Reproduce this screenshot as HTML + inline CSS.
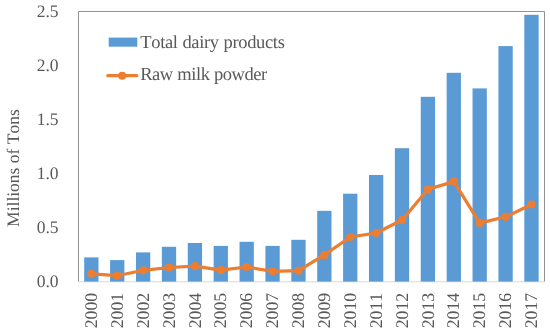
<!DOCTYPE html>
<html><head><meta charset="utf-8"><title>Chart</title>
<style>
html,body{margin:0;padding:0;background:#fff;}
svg{display:block;filter:blur(0.3px)}
text{text-rendering:geometricPrecision;font-kerning:none;font-family:"Liberation Serif","Times New Roman",serif;fill:#595959;}
</style></head><body>
<svg width="550" height="334" viewBox="0 0 550 334">
<rect x="0" y="0" width="550" height="334" fill="#ffffff"/>

<line x1="78.5" y1="281.8" x2="544.5" y2="281.8" stroke="#d9d9d9" stroke-width="1"/>
<g fill="#5b9bd5">
<rect x="84.19" y="257.40" width="14.30" height="24.20"/>
<rect x="110.08" y="260.10" width="14.30" height="21.50"/>
<rect x="135.97" y="252.40" width="14.30" height="29.20"/>
<rect x="161.86" y="246.80" width="14.30" height="34.80"/>
<rect x="187.75" y="243.00" width="14.30" height="38.60"/>
<rect x="213.64" y="245.90" width="14.30" height="35.70"/>
<rect x="239.53" y="241.80" width="14.30" height="39.80"/>
<rect x="265.42" y="245.90" width="14.30" height="35.70"/>
<rect x="291.31" y="239.80" width="14.30" height="41.80"/>
<rect x="317.19" y="210.80" width="14.30" height="70.80"/>
<rect x="343.08" y="193.70" width="14.30" height="87.90"/>
<rect x="368.97" y="175.00" width="14.30" height="106.60"/>
<rect x="394.86" y="148.20" width="14.30" height="133.40"/>
<rect x="420.75" y="96.80" width="14.30" height="184.80"/>
<rect x="446.64" y="72.80" width="14.30" height="208.80"/>
<rect x="472.53" y="88.40" width="14.30" height="193.20"/>
<rect x="498.42" y="46.10" width="14.30" height="235.50"/>
<rect x="524.31" y="14.80" width="14.30" height="266.80"/>
</g>
<path d="M78.5 281.5 V11.5 H544.5 V281.5" fill="none" stroke="#929292" stroke-width="1"/>
<polyline points="91.44,273.80 117.33,275.70 143.22,270.30 169.11,267.50 195.00,266.20 220.89,270.20 246.78,267.00 272.67,271.30 298.56,270.70 324.44,254.90 350.33,237.00 376.22,233.00 402.11,220.00 428.00,189.30 453.89,181.60 479.78,223.10 505.67,216.80 531.56,204.50" fill="none" stroke="#ed7d31" stroke-width="3.2" stroke-linejoin="round" stroke-linecap="round"/>
<g fill="#ed7d31">
<circle cx="91.44" cy="273.80" r="4.1"/>
<circle cx="117.33" cy="275.70" r="4.1"/>
<circle cx="143.22" cy="270.30" r="4.1"/>
<circle cx="169.11" cy="267.50" r="4.1"/>
<circle cx="195.00" cy="266.20" r="4.1"/>
<circle cx="220.89" cy="270.20" r="4.1"/>
<circle cx="246.78" cy="267.00" r="4.1"/>
<circle cx="272.67" cy="271.30" r="4.1"/>
<circle cx="298.56" cy="270.70" r="4.1"/>
<circle cx="324.44" cy="254.90" r="4.1"/>
<circle cx="350.33" cy="237.00" r="4.1"/>
<circle cx="376.22" cy="233.00" r="4.1"/>
<circle cx="402.11" cy="220.00" r="4.1"/>
<circle cx="428.00" cy="189.30" r="4.1"/>
<circle cx="453.89" cy="181.60" r="4.1"/>
<circle cx="479.78" cy="223.10" r="4.1"/>
<circle cx="505.67" cy="216.80" r="4.1"/>
<circle cx="531.56" cy="204.50" r="4.1"/>
</g>
<text x="58.6" y="17.1" font-size="17.5" text-anchor="end">2.5</text>
<text x="58.6" y="71.1" font-size="17.5" text-anchor="end">2.0</text>
<text x="58.6" y="125.1" font-size="17.5" text-anchor="end">1.5</text>
<text x="58.6" y="179.1" font-size="17.5" text-anchor="end">1.0</text>
<text x="58.6" y="233.1" font-size="17.5" text-anchor="end">0.5</text>
<text x="58.6" y="287.1" font-size="17.5" text-anchor="end">0.0</text>
<text transform="translate(97.04,328.3) rotate(-90)" font-size="17.8">2000</text>
<text transform="translate(122.93,328.3) rotate(-90)" font-size="17.8">2001</text>
<text transform="translate(148.82,328.3) rotate(-90)" font-size="17.8">2002</text>
<text transform="translate(174.71,328.3) rotate(-90)" font-size="17.8">2003</text>
<text transform="translate(200.60,328.3) rotate(-90)" font-size="17.8">2004</text>
<text transform="translate(226.49,328.3) rotate(-90)" font-size="17.8">2005</text>
<text transform="translate(252.38,328.3) rotate(-90)" font-size="17.8">2006</text>
<text transform="translate(278.27,328.3) rotate(-90)" font-size="17.8">2007</text>
<text transform="translate(304.16,328.3) rotate(-90)" font-size="17.8">2008</text>
<text transform="translate(330.04,328.3) rotate(-90)" font-size="17.8">2009</text>
<text transform="translate(355.93,328.3) rotate(-90)" font-size="17.8">2010</text>
<text transform="translate(381.82,328.3) rotate(-90)" font-size="17.8">2011</text>
<text transform="translate(407.71,328.3) rotate(-90)" font-size="17.8">2012</text>
<text transform="translate(433.60,328.3) rotate(-90)" font-size="17.8">2013</text>
<text transform="translate(459.49,328.3) rotate(-90)" font-size="17.8">2014</text>
<text transform="translate(485.38,328.3) rotate(-90)" font-size="17.8">2015</text>
<text transform="translate(511.27,328.3) rotate(-90)" font-size="17.8">2016</text>
<text transform="translate(537.16,328.3) rotate(-90)" font-size="17.8">2017</text>
<text transform="translate(19.3,226.9) rotate(-90)" font-size="17.5">Millions of Tons</text>
<rect x="108.7" y="37.6" width="28.6" height="9.1" fill="#5b9bd5"/>
<text x="140.3" y="47.7" font-size="18.5" letter-spacing="-0.34" word-spacing="0.5">Total dairy products</text>
<line x1="107.8" y1="75.7" x2="136.8" y2="75.7" stroke="#ed7d31" stroke-width="3.2" stroke-linecap="round"/>
<circle cx="122.2" cy="75.7" r="4.05" fill="#ed7d31"/>
<text x="140.2" y="80.1" font-size="18.5" letter-spacing="-0.45" word-spacing="0.4">Raw milk powder</text>
</svg></body></html>
